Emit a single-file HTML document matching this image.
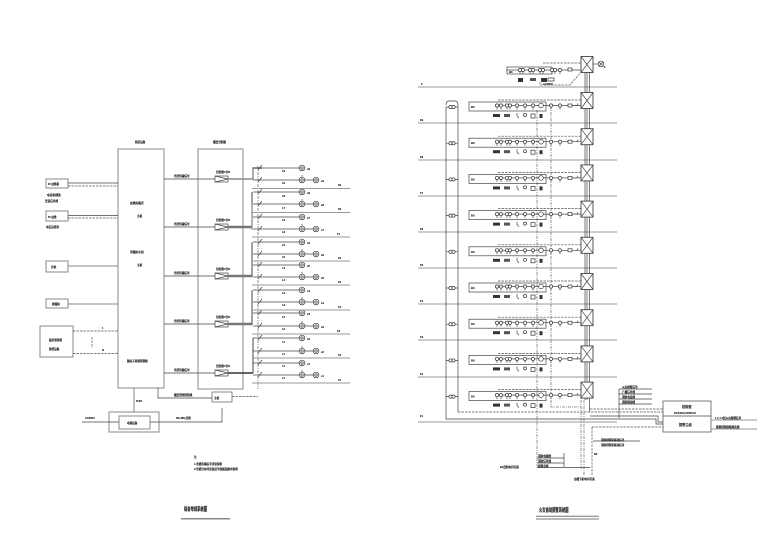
<!DOCTYPE html>
<html><head><meta charset="utf-8"><style>
html,body{margin:0;padding:0;background:#fff}
svg{display:block}
text{font-family:"Liberation Sans","Noto Sans CJK SC",sans-serif;fill:#222;font-weight:700;stroke:#222;stroke-width:.12}
.t{font-size:3.200px}.s{font-size:2.600px}
.m{font-size:5.500px;stroke-width:.15}
.g{stroke:#888;stroke-width:1;fill:none}
.d{stroke:#444;stroke-width:.7;fill:none}
.da{stroke:#555;stroke-width:.7;fill:none;stroke-dasharray:2.5 1}
.dd{stroke:#777;stroke-width:.8;fill:none;stroke-dasharray:3 1 1 1}
.c{stroke:#333;stroke-width:.7;fill:#fff}
.f{stroke:#999;stroke-width:1;fill:none}
</style></head><body>
<svg width="760" height="551" viewBox="0 0 760 551" xmlns="http://www.w3.org/2000/svg">
<defs>
<g id="r1"><path class="d" d="M253 0H302"/><circle class="c" cx="302" cy="0" r="2.800"/><circle class="c" cx="302" cy="0" r="1.200"/></g>
<g id="r2"><path class="d" d="M253 0H316"/><circle class="c" cx="302" cy="0" r="2.800"/><circle class="c" cx="302" cy="0" r="1.200"/><circle class="c" cx="316" cy="0" r="2.800"/><circle class="c" cx="316" cy="0" r="1.200"/><path class="d" d="M302 -3V-5"/></g>
<g id="sp"><rect class="d" x="215" y="-3" width="13" height="6" fill="#fff"/><path class="d" d="M215 -3L228 0L215 3"/></g>
<g id="tk"><path class="d" d="M258 2L262 -3"/></g>
<g id="cr"><rect x="581" y="-8" width="12" height="16" fill="#fff" stroke="#444" stroke-width=".9"/><path class="d" d="M581 -8L593 8M593 -8L581 8"/></g>
<g id="cp"><circle class="c" cx="0" cy="0" r="1.600"/><path class="d" d="M0 1.600V4"/></g>
<g id="row">
<rect class="d" x="469" y="102" width="77" height="9"/>
<path class="d" d="M495 105.500H581"/>
<path class="da" d="M498 100H581"/>
<path class="d" d="M446 107H449M455 107H458"/>
<circle class="c" cx="450.500" cy="107" r="1.600"/><circle class="c" cx="453.500" cy="107" r="1.600"/>
<use href="#cp" x="497" y="105.500"/><use href="#cp" x="501" y="105.500"/><use href="#cp" x="507" y="105.500"/><use href="#cp" x="510" y="105.500"/>
<use href="#cp" x="517" y="105.500"/><use href="#cp" x="525" y="105.500"/><use href="#cp" x="533" y="105.500"/>
<circle class="c" cx="541" cy="105.500" r="2.300"/>
<use href="#cp" x="551" y="105.500"/><use href="#cp" x="560" y="105.500"/>
<rect class="c" x="568" y="104" width="4" height="3"/>
<path class="d" d="M575 105.500h2l1-2"/>
<rect x="493" y="114" width="7" height="3" fill="#333"/><rect x="504" y="114" width="6" height="3" fill="#555"/>
<path class="d" d="M517 113v3l2 2"/><circle class="c" cx="525" cy="115" r="1.500"/><rect class="c" x="531" y="114" width="4" height="4"/>
<rect x="539.500" y="114" width="3" height="4" fill="#333"/>
<text class="s" x="471" y="108">BX</text>
</g>
</defs>

<!-- LEFT DIAGRAM -->
<text class="s" x="135" y="143">机房设备</text>
<text class="s" x="213" y="143">楼层分配箱</text>
<rect class="g" x="118" y="149" width="46" height="239"/>
<rect class="g" x="198" y="149" width="45" height="240"/>

<rect class="g" x="46" y="179" width="22" height="9"/>
<text class="s" x="48" y="185">IP-交换机</text>
<path class="d" d="M68 183H118"/><path class="da" d="M68 186H118"/>
<text class="s" x="47" y="196">电话/配线架</text><text class="s" x="45" y="202">语音信号线</text>
<rect class="g" x="46" y="211" width="22" height="10"/>
<text class="s" x="48" y="218">IP-交换</text>
<path class="d" d="M68 215.600H118"/><path class="da" d="M68 218H118"/>
<text class="s" x="46" y="228">电信运营商</text>
<rect class="g" x="46" y="261" width="22" height="11"/><text class="s" x="51" y="268">分机</text>
<path class="g" d="M68 266H118"/>
<rect class="g" x="46" y="299" width="22" height="9"/><text class="s" x="52" y="305">终端机</text>
<path class="g" d="M68 304H118"/>
<rect class="g" x="40" y="326" width="33" height="31"/>
<text class="s" x="49" y="341">服务器系统</text><text class="s" x="49" y="350">监控设备</text>
<path class="da" d="M73 331H118M73 353.500H118"/>
<text class="s" x="102" y="329">1</text><text class="s" x="102" y="351">N</text>
<path class="da" d="M92 337V348"/>

<text class="s" x="130" y="204">交换机/服务</text><text class="s" x="137" y="217">主机</text>
<text class="s" x="130" y="253">光端机/主机</text><text class="s" x="137" y="266">主机</text>
<text class="s" x="127" y="362">输出子系统控制器</text>

<path class="d" d="M164 179H198M164 227H198M164 276H198M164 324H198M164 373H198"/>
<text class="s" x="174" y="177">光纤传输信号</text><text class="s" x="174" y="225">光纤传输信号</text><text class="s" x="174" y="274">光纤传输信号</text><text class="s" x="174" y="322">光纤传输信号</text><text class="s" x="174" y="371">光纤传输信号</text>

<path class="d" d="M198 179H215M198 227H215M198 276H215M198 324H215M198 373H215"/>
<use href="#sp" y="179"/><use href="#sp" y="227"/><use href="#sp" y="276"/><use href="#sp" y="324"/><use href="#sp" y="373"/>
<text class="s" x="216" y="173">分配器/1分8</text><text class="s" x="216" y="221">分配器/1分8</text><text class="s" x="216" y="270">分配器/1分8</text><text class="s" x="216" y="318">分配器/1分8</text><text class="s" x="216" y="367">分配器/1分8</text>

<path d="M228 179H253V168H262" stroke="#888" stroke-width="1.400" fill="none"/>
<path d="M228 227H252" stroke="#777" stroke-width="2.400"/><path d="M252 228V192" stroke="#666" stroke-width="1.200"/><path d="M252 230V204" stroke="#888" stroke-width="1"/>
<path d="M228 276H252" stroke="#777" stroke-width="2.400"/><path d="M252 277V242" stroke="#666" stroke-width="1.200"/>
<path d="M228 324H252" stroke="#777" stroke-width="2.400"/><path d="M252 325V290" stroke="#666" stroke-width="1.200"/>
<path d="M228 373H253" stroke="#333" stroke-width="1.600"/><path d="M253 373V338" stroke="#666" stroke-width="1.200"/>

<path class="dd" d="M258 166V389"/>
<use href="#r1" y="168"/><use href="#r2" y="180"/><use href="#r1" y="192"/><use href="#r2" y="204"/><use href="#r1" y="217"/><use href="#r2" y="229"/>
<use href="#r1" y="242"/><use href="#r2" y="254"/><use href="#r1" y="265"/><use href="#r2" y="277"/><use href="#r1" y="290"/><use href="#r2" y="302"/>
<use href="#r1" y="313"/><use href="#r2" y="326"/><use href="#r1" y="338"/><use href="#r2" y="351"/><use href="#r1" y="363"/><use href="#r2" y="375"/>
<use href="#tk" y="168"/><use href="#tk" y="180"/><use href="#tk" y="192"/><use href="#tk" y="204"/><use href="#tk" y="217"/><use href="#tk" y="229"/>
<use href="#tk" y="242"/><use href="#tk" y="254"/><use href="#tk" y="265"/><use href="#tk" y="277"/><use href="#tk" y="290"/><use href="#tk" y="302"/>
<use href="#tk" y="313"/><use href="#tk" y="326"/><use href="#tk" y="338"/><use href="#tk" y="351"/><use href="#tk" y="363"/><use href="#tk" y="375"/>

<path class="f" d="M252 188.500H350M252 212.500H350M252 237H350M252 261H350M252 285H350M252 310H350M252 334H350M252 358H350M252 383H350"/>

<g>
<text class="s" x="282" y="172">L9</text><text class="s" x="282" y="184">L9</text><text class="s" x="282" y="197">L8</text><text class="s" x="282" y="209">L7</text><text class="s" x="282" y="221">L6</text><text class="s" x="282" y="233">L6</text><text class="s" x="282" y="246">L5</text><text class="s" x="282" y="258">L5</text><text class="s" x="282" y="269">L4</text><text class="s" x="282" y="281">L4</text><text class="s" x="282" y="294">L3</text><text class="s" x="282" y="306">L3</text><text class="s" x="282" y="318">L2</text><text class="s" x="282" y="330">L2</text><text class="s" x="282" y="343">L1</text><text class="s" x="282" y="355">L1</text><text class="s" x="282" y="367">L1</text><text class="s" x="282" y="379">L1</text>
<text class="s" x="307" y="170">x9</text><text class="s" x="321" y="182">x9</text><text class="s" x="307" y="194">x8</text><text class="s" x="321" y="206">x8</text><text class="s" x="307" y="219">x7</text><text class="s" x="321" y="231">x7</text><text class="s" x="307" y="244">x6</text><text class="s" x="321" y="256">x6</text><text class="s" x="307" y="267">x5</text><text class="s" x="321" y="279">x5</text><text class="s" x="307" y="292">x4</text><text class="s" x="321" y="304">x4</text><text class="s" x="307" y="315">x3</text><text class="s" x="321" y="328">x3</text><text class="s" x="307" y="340">x2</text><text class="s" x="321" y="353">x2</text><text class="s" x="307" y="365">x1</text><text class="s" x="321" y="377">x1</text>
<text class="s" x="338" y="186">F9</text><text class="s" x="338" y="210">F8</text><text class="s" x="337" y="235">F7</text><text class="s" x="338" y="259">F6</text><text class="s" x="338" y="283">F5</text><text class="s" x="338" y="308">F4</text><text class="s" x="337" y="332">F3</text><text class="s" x="338" y="356">F2</text><text class="s" x="338" y="381">F1</text>
</g>

<path class="g" d="M134 388V412"/>
<text class="s" x="136" y="402">PUFI</text>
<rect class="g" x="109" y="412" width="50" height="20"/>
<rect class="g" x="119" y="416" width="31" height="13" fill="#fff"/>
<text class="s" x="127" y="424">电源设备</text>
<path class="d" d="M82 422H119M150 422H222V408"/>
<text class="s" x="85" y="419">AC220V</text>
<text class="s" x="176" y="419">RS-485,总线</text>
<rect class="g" x="212" y="392" width="20" height="10"/>
<text class="s" x="214" y="399">主机</text>
<path class="d" d="M158 388V398H212"/>
<text class="s" x="174" y="396">楼层管理控制线</text>
<path class="da" d="M232 396.500H258"/>
<text class="s" x="194" y="458">注</text>
<text class="s" x="194" y="465">1.光缆传输信号详见说明</text>
<text class="s" x="194" y="470">2.光缆分布详见各层平面图及图中说明</text>
<text class="m" transform="translate(184 511) scale(.6 1)">综合布线系统图</text>
<path d="M181 518.700H230" stroke="#888" stroke-width="1.500"/>

<!-- RIGHT DIAGRAM -->
<path class="f" d="M418 87H617M418 123H617M418 160H617M418 196H617M418 232H617M418 268H617M418 304H617M418 340H617M418 377H617M418 422H617"/>
<text class="s" x="421" y="85">F</text><text class="s" x="420" y="121">F9</text><text class="s" x="420" y="158">F8</text><text class="s" x="420" y="194">F7</text><text class="s" x="420" y="230">F6</text><text class="s" x="420" y="266">F5</text><text class="s" x="420" y="302">F4</text><text class="s" x="420" y="338">F3</text><text class="s" x="420" y="375">F2</text><text class="s" x="420" y="417">F1</text>

<path class="d" d="M585 60V400M587 60V400M589.500 60V412"/>
<path class="d" d="M446 107V419H590"/>
<path class="d" d="M446 105Q446 101 449 101H455Q458 101 458 105V412"/>
<path class="da" d="M458 412H663"/>
<path class="dd" d="M537 110V468"/>
<path class="dd" d="M551 106V407H581"/>

<use href="#row"/><use href="#row" y="36.200"/><use href="#row" y="72.400"/><use href="#row" y="108.600"/><use href="#row" y="144.800"/><use href="#row" y="181"/><use href="#row" y="217.200"/><use href="#row" y="253.400"/><use href="#row" y="289.600"/>

<!-- top row -->
<rect class="d" x="507" y="67" width="45" height="7"/>
<path class="d" d="M507 70H581"/>
<path class="da" d="M543 63H581"/>
<text class="s" x="509" y="73">BX</text>
<use href="#cp" x="520" y="70"/><use href="#cp" x="523" y="70"/><use href="#cp" x="530" y="70"/><use href="#cp" x="533" y="70"/><use href="#cp" x="540" y="70"/><use href="#cp" x="543" y="70"/><use href="#cp" x="552" y="70"/><use href="#cp" x="555" y="70"/><use href="#cp" x="560" y="70"/>
<rect class="c" x="568" y="68" width="4" height="3"/>
<rect x="518" y="78" width="5" height="4" fill="#333"/><rect x="530" y="78" width="6" height="3" fill="#555"/><rect x="541" y="78" width="6" height="4" fill="#333"/><rect class="c" x="548" y="78" width="6" height="3"/>
<path class="da" d="M540 82V85H570L581 72"/>
<text class="s" x="543" y="85">AC220V</text>

<use href="#cr" y="64.500"/><use href="#cr" y="100.500"/><use href="#cr" y="136.700"/><use href="#cr" y="172.900"/><use href="#cr" y="209.100"/><use href="#cr" y="245.300"/><use href="#cr" y="281.500"/><use href="#cr" y="317.700"/><use href="#cr" y="353.900"/><use href="#cr" y="390.100"/>
<path class="d" d="M593 64H598"/><circle class="c" cx="601" cy="64" r="2.800"/><path class="d" d="M599 62L603 66M603 62L599 66"/>
<text class="s" x="604" y="68">F</text>

<!-- bottom of right -->
<path class="d" d="M619 389V418M619 389H652M619 394H652M619 399H652M619 404H652"/>
<text class="s" x="622" y="388">火灾报警信号</text><text class="s" x="622" y="393">广播信号线</text><text class="s" x="622" y="398">消防电话线</text><text class="s" x="622" y="403">消防联动线</text>
<path class="da" d="M590 409H663"/>
<path class="d" d="M590 416H658V422H663M590 419H656V424H663"/>
<rect class="d" x="663" y="401" width="48" height="31" fill="#fff"/>
<path class="d" d="M663 416H711"/>
<text class="t" x="682" y="408">控制室</text><text class="s" x="674" y="414">DC24V/AC220V&#215;2</text><text class="t" x="679" y="426">报警主机</text>
<path class="f" d="M711 420H757M711 429H757"/>
<text class="s" x="715" y="419">1.1-1.4层火灾报警信号</text><text class="s" x="716" y="428">报警控制器联网总线</text>
<path class="da" d="M592 427H663M592 427V475"/>
<path class="d" d="M593 441H640"/>
<text class="s" x="601" y="441">消防控制室联动信号</text><text class="s" x="601" y="446">消防控制室联动信号</text>
<text class="s" x="594" y="455">BF</text>
<path class="dd" d="M584 400V475M581 400V470"/>
<path class="d" d="M537 467.500H590M537 463H564M537 458H564M564 453V467"/>
<text class="s" x="538" y="457">消防电源线</text><text class="s" x="538" y="462">消防信号线</text><text class="s" x="538" y="467">报警总线</text>
<text class="s" x="500" y="468">B1层配电间引来</text>
<text class="s" x="574" y="480">由楼下配电间引来</text>
<text class="m" transform="translate(539 512) scale(.6 1)">火灾自动报警系统图</text>
<path d="M536 516.300H599M536 519H599" stroke="#777" stroke-width="1"/>
</svg>
</body></html>
